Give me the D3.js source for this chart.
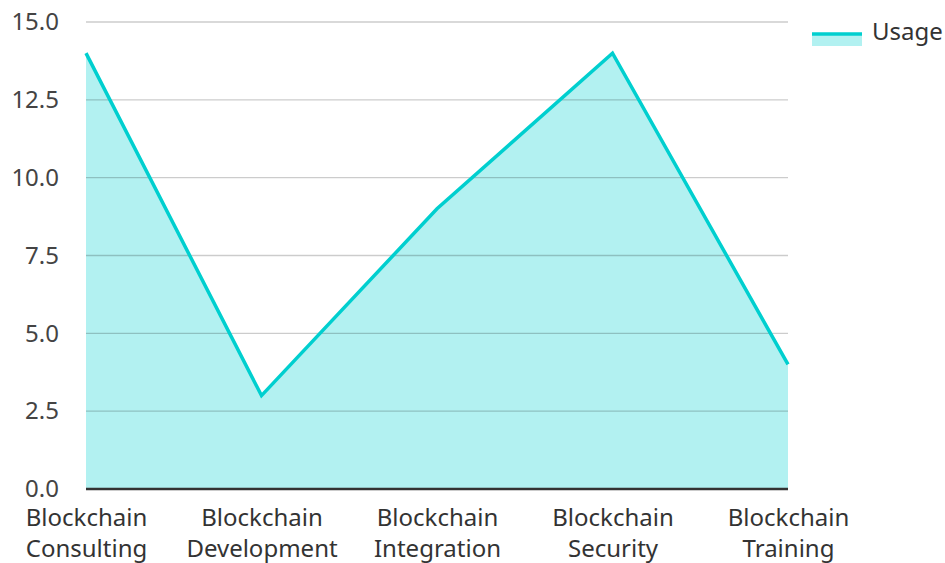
<!DOCTYPE html>
<html>
<head>
<meta charset="utf-8">
<script src="https://cdn.jsdelivr.net/npm/d3@7"></script>
<style>
  html, body { margin: 0; padding: 0; background: #fff; }
  svg { display: block; font-family: "Noto Sans", "Open Sans", sans-serif; }
</style>
</head>
<body>
<svg id="chart" width="945" height="563"></svg>
<script>
// data
const categories = ["Blockchain Consulting", "Blockchain Development", "Blockchain Integration", "Blockchain Security", "Blockchain Training"];
const usage = [14, 3, 9, 14, 4];
const yTicks = [0, 2.5, 5, 7.5, 10, 12.5, 15];
const seriesName = "Usage";

const LINE = "#00cfcf";
const FILL = "rgba(0,207,207,0.3)";

const svg = d3.select("#chart");
const m = { left: 86, right: 157, top: 22, bottom: 74 };
const W = 945, H = 563;

const x = d3.scalePoint().domain(categories).range([m.left, W - m.right]);
const y = d3.scaleLinear().domain([0, 15]).range([H - m.bottom, m.top]);

const rows = categories.map((c, i) => ({ c, v: usage[i] }));

// area fill
svg.append("path")
  .datum(rows)
  .attr("fill", FILL)
  .attr("d", d3.area().x(d => x(d.c)).y0(y(0)).y1(d => y(d.v)));

// grid (drawn over the fill, semi transparent)
svg.append("g")
  .selectAll("line")
  .data(yTicks.filter(t => t > 0))
  .join("line")
  .attr("x1", m.left).attr("x2", W - m.right)
  .attr("y1", d => y(d)).attr("y2", d => y(d))
  .attr("stroke", "rgba(0,0,0,0.2)")
  .attr("stroke-width", 1.3);

// line
svg.append("path")
  .datum(rows)
  .attr("fill", "none")
  .attr("stroke", LINE)
  .attr("stroke-width", 3.5)
  .attr("stroke-linejoin", "miter")
  .attr("d", d3.line().x(d => x(d.c)).y(d => y(d.v)));

// y labels
const yAxis = svg.append("g")
  .attr("transform", `translate(${m.left},0)`)
  .call(d3.axisLeft(y).tickValues(yTicks).tickFormat(d3.format(".1f")).tickSize(0).tickPadding(27));
yAxis.select(".domain").remove();
yAxis.selectAll("text")
  .attr("font-family", "'Noto Sans', sans-serif")
  .attr("font-size", 24)
  .attr("fill", "#444");

// x axis
const xAxis = svg.append("g")
  .attr("transform", `translate(0,${y(0)})`)
  .call(d3.axisBottom(x).tickSize(0).tickPadding(0));
xAxis.select(".domain").attr("stroke", "#333").attr("stroke-width", 2.5)
  .attr("d", `M${m.left},0H${W - m.right}`);
xAxis.selectAll("text").remove();
xAxis.selectAll(".tick").each(function (d) {
  const words = d.split(" ");
  const t = d3.select(this).append("text")
    .attr("text-anchor", "middle")
    .attr("font-family", "'Noto Sans', sans-serif")
    .attr("font-size", 24)
    .attr("fill", "#333");
  words.forEach((w, i) => {
    t.append("tspan").attr("x", 0).attr("y", 37 + i * 31).text(w);
  });
});

// legend
const lg = svg.append("g").attr("transform", "translate(812,31)");
lg.append("rect").attr("x", 0).attr("y", 2).attr("width", 50).attr("height", 13).attr("fill", FILL);
lg.append("line").attr("x1", 0).attr("x2", 50).attr("y1", 3).attr("y2", 3)
  .attr("stroke", LINE).attr("stroke-width", 3.5);
lg.append("text").attr("x", 60).attr("y", 3)
  .attr("dominant-baseline", "middle")
  .attr("font-size", 24).attr("fill", "#333")
  .text(seriesName);
</script>
</body>
</html>
